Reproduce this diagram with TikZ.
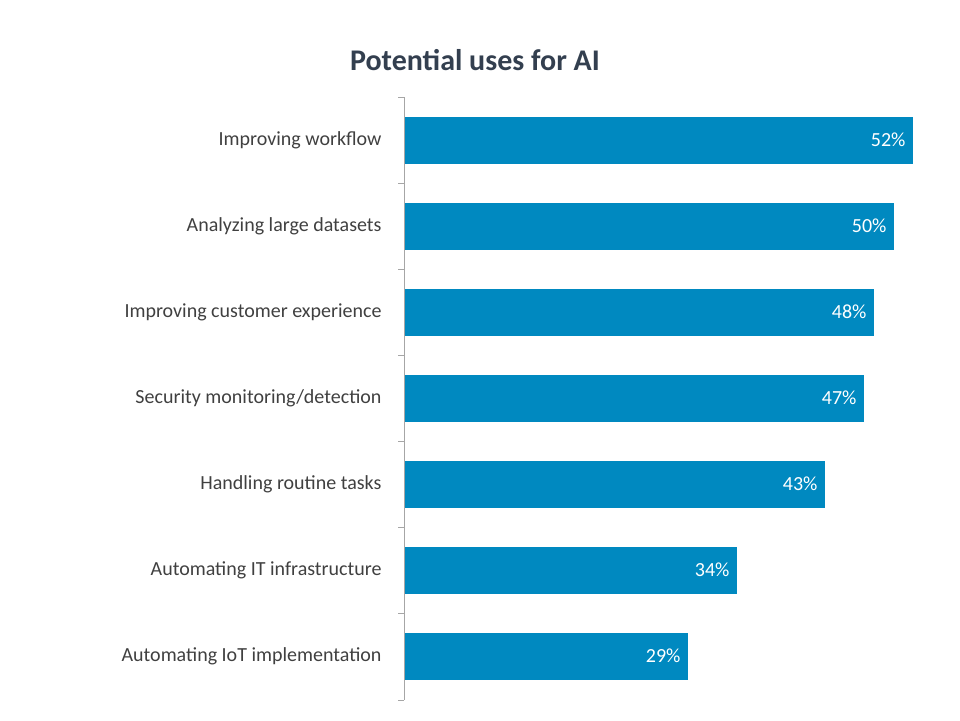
\documentclass[tikz,border=0pt]{standalone}
\usepackage{fontspec}
\setmainfont{Carlito}
\definecolor{barc}{HTML}{0089C0}
\definecolor{txt}{HTML}{404040}
\definecolor{ttl}{HTML}{333F4F}
\begin{document}
\begin{tikzpicture}[x=1pt,y=-1pt,
  bar/.style={fill=barc,draw=none},
  lab/.style={anchor=east,text=txt,font=\fontsize{20}{24}\selectfont},
  val/.style={anchor=east,text=white,font=\fontsize{20}{24}\selectfont}]
\useasboundingbox (0,0) rectangle (960,720);
\node[text=ttl,font=\bfseries\fontsize{30}{36}\selectfont] (title) at (475,60) {Potential uses for AI};
\coordinate (axt) at (404,97);
\coordinate (axb) at (404,700);
\draw[gray!70,line width=1] (axt) -- (axb);
\foreach \y in {97,183,269,355,441,527,613,700} \draw[gray!70,line width=1] (398,\y) -- (404,\y);
\foreach \i/\e/\t/\v in {0/913/Improving workflow/52,1/894/Analyzing large datasets/50,2/874/Improving customer experience/48,3/864/Security monitoring\slash detection/47,4/825/Handling routine tasks/43,5/737/Automating IT infrastructure/34,6/688/Automating IoT implementation/29}{
  \pgfmathsetmacro{\c}{140+86*\i}
  \fill[bar] (405,\c-23.5) rectangle (\e,\c+23.5);
  \node[lab] (l\i) at (385,\c) {\t};
  \node[val] (v\i) at (\e-4,\c) {\v\%};
}
\end{tikzpicture}
\end{document}
